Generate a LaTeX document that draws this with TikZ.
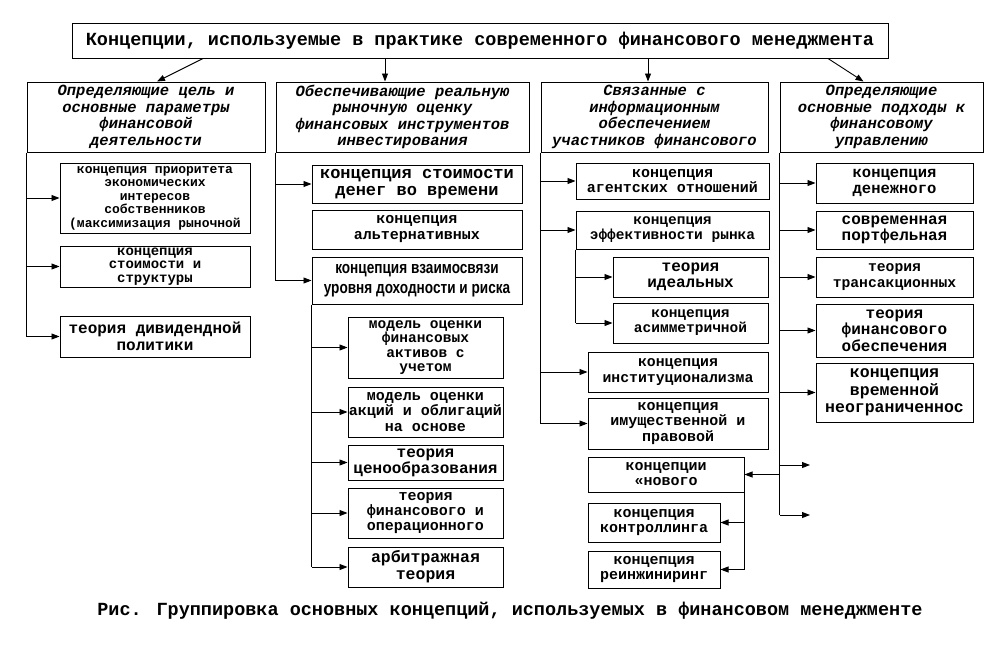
\documentclass[tikz,border=0pt]{standalone}
\usepackage{fontspec}
\setmainfont{Liberation Mono}
\newfontfamily\narrowsans{Liberation Sans}[FakeStretch=0.8]
\newcommand\fsz[2]{\fontsize{#1}{#2}\selectfont}
\usetikzlibrary{arrows.meta}

\tikzset{
  concept/.style 2 args={draw, line width=1pt, inner sep=0pt, align=center, font=\bfseries\fsz{#1}{#2}},
  group/.style={draw, line width=1pt, inner sep=0pt, align=center, minimum height=70, font=\bfseries\itshape\fsz{15.5}{16.5}},
  link/.style={line width=0.9pt},
}

\begin{document}
\begin{tikzpicture}[x=1pt, y=-1pt, >={Triangle[length=8pt, width=6pt]}]
\useasboundingbox (0,0) rectangle (987,645);

\node[concept={18.5}{20}, minimum width=816, minimum height=35] (title) at (480,40.5) {Концепции, используемые в практике современного финансового менеджмента};

\node[group, minimum width=238] (h1) at (146,117) {Определяющие цель и\\основные параметры\\финансовой\\деятельности};
\node[group, minimum width=253] (h2) at (402.5,117) {Обеспечивающие реальную\\рыночную оценку\\финансовых инструментов\\инвестирования};
\node[group, minimum width=227] (h3) at (654.5,117) {Связанные с\\информационным\\обеспечением\\участников финансового};
\node[group, minimum width=203] (h4) at (881.5,117) {Определяющие\\основные подходы к\\финансовому\\управлению};

\node[concept={13}{13.5}, minimum width=190, minimum height=70] (b1a) at (155,198) {концепция приоритета\\экономических\\интересов\\собственников\\(максимизация рыночной};
\node[concept={14}{13.5}, minimum width=190, minimum height=41] (b1b) at (155,266.5) {концепция\\стоимости и\\структуры};
\node[concept={16}{17}, minimum width=190, minimum height=41] (b1c) at (155,336.5) {теория дивидендной\\политики};

\node[concept={17}{17.5}, minimum width=210, minimum height=38] (b2a) at (417,184) {концепция стоимости\\денег во времени};
\node[concept={15}{16}, minimum width=210, minimum height=39] (b2b) at (417,229.5) {концепция\\альтернативных};
\node[draw, line width=1pt, inner sep=0pt, align=center, font=\narrowsans\bfseries\fsz{17}{20}, minimum width=210, minimum height=47] (b2c) at (417,280.5) {концепция взаимосвязи\\уровня доходности и риска};
\node[concept={14.5}{14.5}, minimum width=155, minimum height=61] (b2d) at (425.5,347.5) {модель оценки\\финансовых\\активов с\\учетом};
\node[concept={15}{15.5}, minimum width=155, minimum height=50] (b2e) at (425.5,412) {модель оценки\\акций и облигаций\\на основе};
\node[concept={16}{16}, minimum width=155, minimum height=35] (b2f) at (425.5,462.5) {теория\\ценообразования};
\node[concept={15}{15}, minimum width=155, minimum height=50] (b2g) at (425.5,513) {теория\\финансового и\\операционного};
\node[concept={16.5}{17}, minimum width=155, minimum height=40] (b2h) at (425.5,567) {арбитражная\\теория};

\node[concept={15}{15.5}, minimum width=193, minimum height=36] (b3a) at (672.5,181) {концепция\\агентских отношений};
\node[concept={14.5}{15}, minimum width=193, minimum height=38] (b3b) at (672.5,230) {концепция\\эффективности рынка};
\node[concept={16}{16}, minimum width=155, minimum height=40] (b3c) at (690.5,277) {теория\\идеальных};
\node[concept={14.5}{15}, minimum width=155, minimum height=40] (b3d) at (690.5,323) {концепция\\асимметричной};
\node[concept={14.8}{15.5}, minimum width=180, minimum height=40] (b3e) at (678,372) {концепция\\институционализма};
\node[concept={15}{15.5}, minimum width=180, minimum height=51] (b3f) at (678,423.5) {концепция\\имущественной и\\правовой};
\node[concept={15}{15}, minimum width=156, minimum height=35] (b3g) at (666,474.5) {концепции\\«нового};
\node[concept={15}{15.5}, minimum width=132, minimum height=39] (b3h) at (654,522.5) {концепция\\контроллинга};
\node[concept={15}{15.5}, minimum width=132, minimum height=37] (b3i) at (654,569.5) {концепция\\реинжиниринг};

\node[concept={15.5}{16}, minimum width=157, minimum height=40] (b4a) at (894.5,183) {концепция\\денежного};
\node[concept={16}{16}, minimum width=157, minimum height=38] (b4b) at (894.5,230) {современная\\портфельная};
\node[concept={14.7}{15.5}, minimum width=157, minimum height=40] (b4c) at (894.5,277) {теория\\трансакционных};
\node[concept={16}{16.5}, minimum width=157, minimum height=53] (b4d) at (894.5,330.5) {теория\\финансового\\обеспечения};
\node[concept={16.5}{17.5}, minimum width=157, minimum height=59] (b4e) at (894.5,392.5) {концепция\\временной\\неограниченнос};

\node[font=\bfseries\fsz{18.5}{20}, inner sep=0pt] (caption) at (510,611) {Рис. Группировка основных концепций, используемых в финансовом менеджменте};

\coordinate (a2) at (385,0);
\coordinate (a3) at (648,0);
\coordinate (f1) at (810,465);
\coordinate (f2) at (810,515);

\draw[link, ->] ([xshift=-277pt]title.south) -- ([xshift=11pt]h1.north);
\draw[link, ->] (title.south -| a2) -- (h2.north -| a2);
\draw[link, ->] (title.south -| a3) -- (h3.north -| a3);
\draw[link, ->] ([xshift=348pt]title.south) -- ([xshift=-18pt]h4.north);

\draw[link] (h1.south west) -- (h1.south west |- b1c.west);
\foreach \b in {b1a, b1b, b1c}
  \draw[link, ->] (h1.south west |- \b.west) -- (\b.west);

\draw[link] (h2.south west) -- (h2.south west |- b2c.west);
\foreach \b in {b2a, b2c}
  \draw[link, ->] (h2.south west |- \b.west) -- (\b.west);
\draw[link] (b2c.south west) -- (b2c.south west |- b2h.west);
\foreach \b in {b2d, b2e, b2f, b2g, b2h}
  \draw[link, ->] (b2c.south west |- \b.west) -- (\b.west);

\draw[link] (h3.south west) -- (h3.south west |- b3f.west);
\foreach \b in {b3a, b3b, b3e, b3f}
  \draw[link, ->] (h3.south west |- \b.west) -- (\b.west);
\draw[link] (b3b.south west) -- (b3b.south west |- b3d.west);
\foreach \b in {b3c, b3d}
  \draw[link, ->] (b3b.south west |- \b.west) -- (\b.west);

\draw[link] (h4.south west) -- (h4.south west |- f2);
\foreach \b in {b4a, b4b, b4c, b4d, b4e}
  \draw[link, ->] (h4.south west |- \b.west) -- (\b.west);
\draw[link, ->] (h4.south west |- f1) -- (f1);
\draw[link, ->] (h4.south west |- f2) -- (f2);
\draw[link, ->] (h4.south west |- b3g.east) -- (b3g.east);
\draw[link] (b3g.south east) -- (b3g.south east |- b3i.east);
\foreach \b in {b3h, b3i}
  \draw[link, ->] (b3g.south east |- \b.east) -- (\b.east);
\end{tikzpicture}
\end{document}
